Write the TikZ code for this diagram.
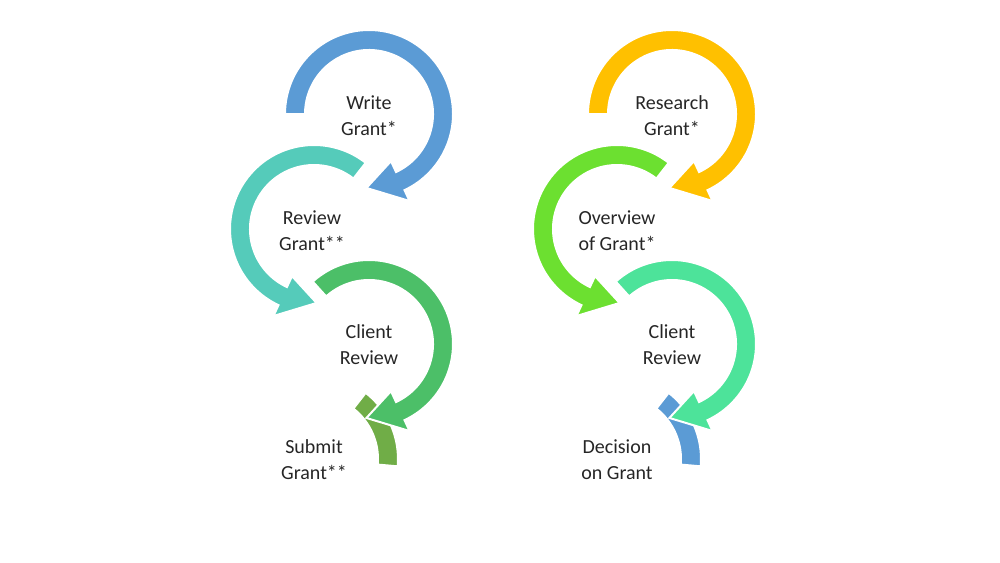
\documentclass[tikz,border=0pt]{standalone}
\usepackage{fontspec}
\setmainfont{Carlito}
\usetikzlibrary{positioning, calc}

\definecolor{cBlue}{HTML}{5B9BD5}
\definecolor{cTeal}{HTML}{55CBBA}
\definecolor{cGreen}{HTML}{4CBF68}
\definecolor{cOlive}{HTML}{70AD47}
\definecolor{cGold}{HTML}{FFC000}
\definecolor{cLime}{HTML}{6CE030}
\definecolor{cMint}{HTML}{4DE39A}

% ring arrow: centre, start angle, shaft end angle, tip angle
\newcommand{\ringarrow}[5]{%
    \fill[#5, draw=white, line width=2pt]
        ($#1+(#2:84)$) arc[start angle=#2, end angle=#3, radius=84]
        -- ($#1+(#3:96)$) -- ($#1+(#4:74)$) -- ($#1+(#3:52)$)
        -- ($#1+(#3:64)$) arc[start angle=#3, end angle=#2, radius=64] -- cycle;
}
\newcommand{\ringopen}[4]{%
    \fill[#4, draw=white, line width=2pt]
        ($#1+(#2:84)$) arc[start angle=#2, end angle=#3, radius=84]
        -- ($#1+(#3:64)$) arc[start angle=#3, end angle=#2, radius=64] -- cycle;
}

\begin{document}
\begin{tikzpicture}[
    x=1pt, y=-1pt,
    % Node styles
    steplabel/.style={
        align=center,
        font=\fontsize{20}{26}\selectfont,
        text=black!85
    }
]
\useasboundingbox (0,0) rectangle (1000,562);

\foreach \dx/\ca/\cb/\cc/\cd in {0/cBlue/cTeal/cGreen/cOlive, 303/cGold/cLime/cMint/cBlue} {
    % Rings drawn bottom first so each head sits on the next one
    \ringopen{(314+\dx,459)}{-52}{5}{\cd}
    \ringarrow{(369+\dx,344)}{-132}{65}{92}{\cc}
    \ringarrow{(314+\dx,229)}{-52}{-245}{-272}{\cb}
    \ringarrow{(369+\dx,114)}{-180}{65}{92}{\ca}
}

% Left column
\node[steplabel] (write) at (369,116) {Write\\Grant*};
\node[steplabel] (review) at (312,231) {Review\\Grant**};
\node[steplabel] (client) at (369,345) {Client\\Review};
\node[steplabel] (submit) at (314,460) {Submit\\Grant**};

% Right column
\node[steplabel] (research) at (672,116) {Research\\Grant*};
\node[steplabel] (overview) at (617,231) {Overview\\of Grant*};
\node[steplabel] (clientb) at (672,345) {Client\\Review};
\node[steplabel] (decision) at (617,460) {Decision\\on Grant};

\end{tikzpicture}
\end{document}
